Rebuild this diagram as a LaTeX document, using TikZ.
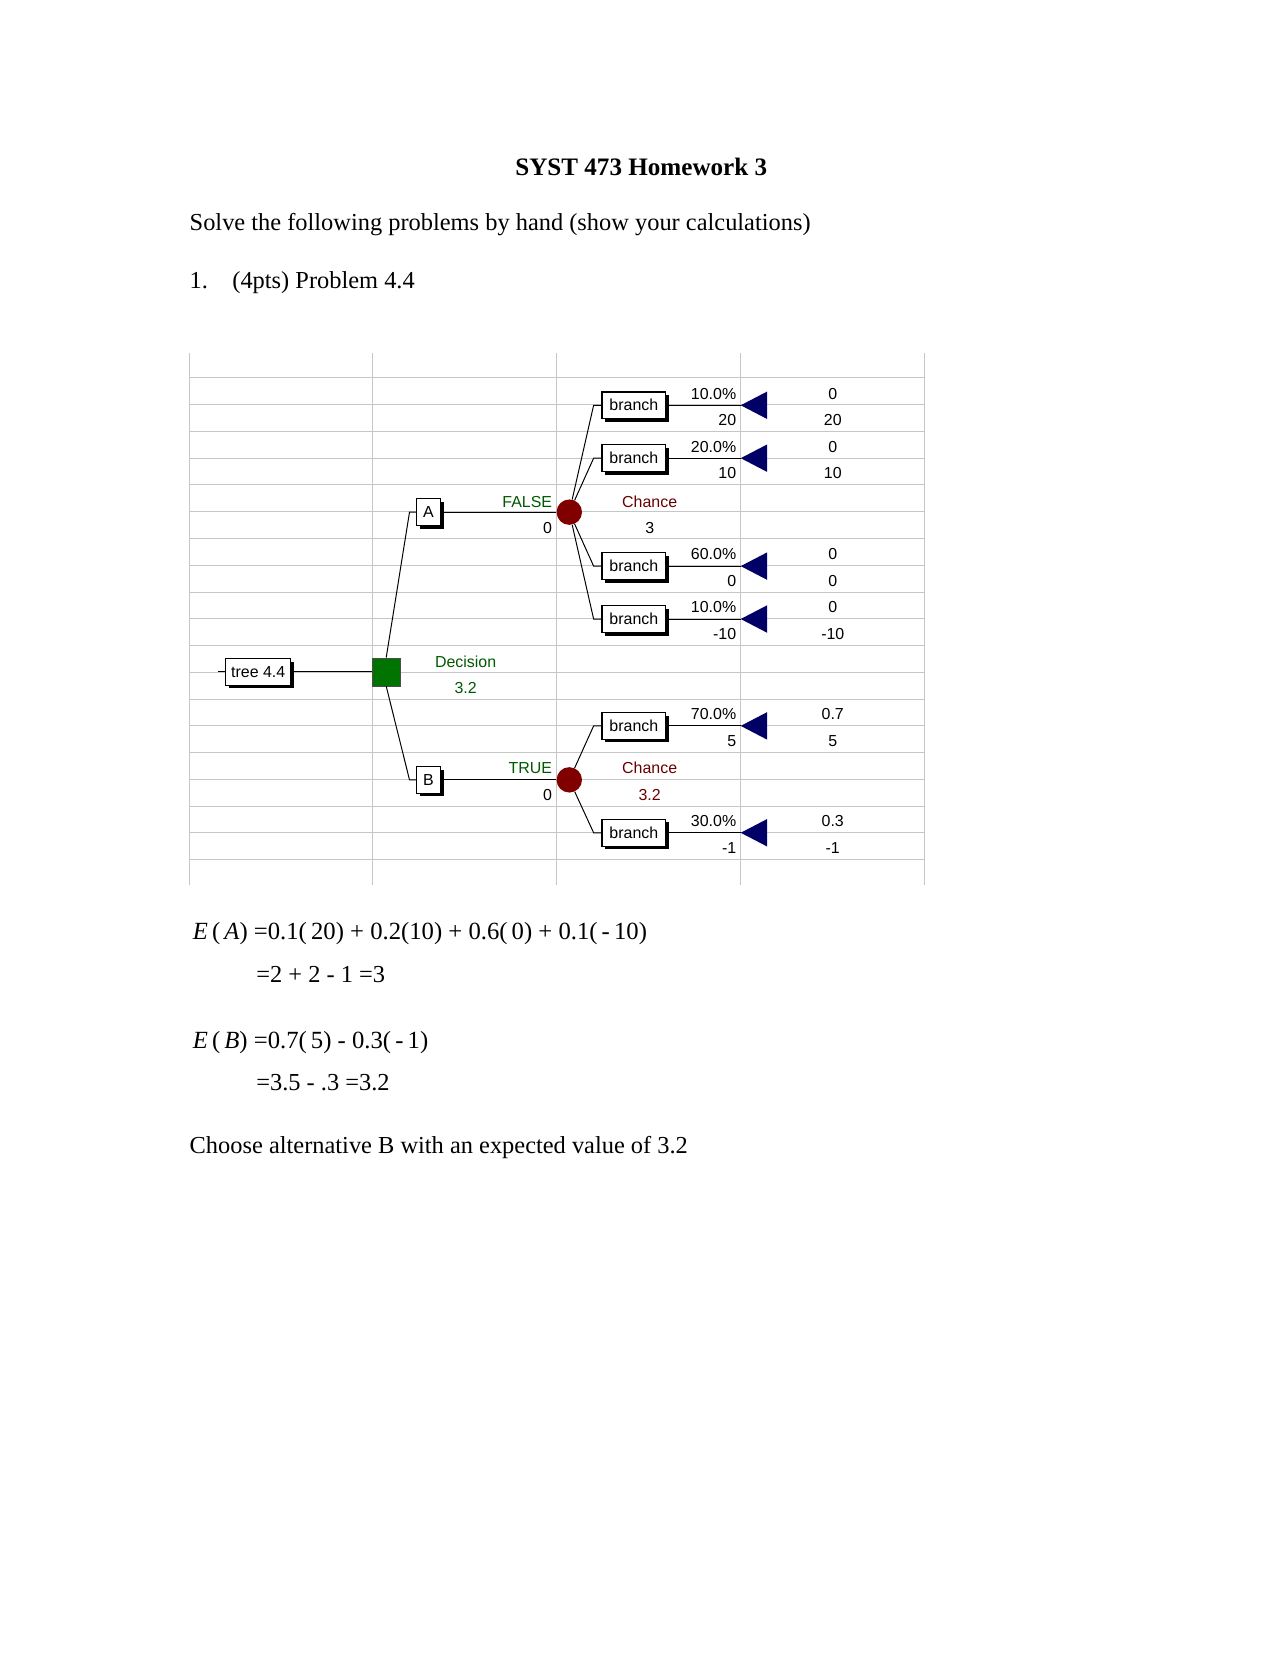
\documentclass[tikz,border=0pt]{standalone}
\usepackage{fontspec}
\setmainfont{Liberation Serif}
\newfontfamily\dsans{Liberation Sans}
\usetikzlibrary{shadows}
\begin{document}
\begin{tikzpicture}[x=0.75pt,y=-0.75pt,
  body/.style={font=\fontsize{17.3}{21}\selectfont, inner sep=0pt},
  dtxt/.style={font=\dsans\fontsize{11.3}{13}\selectfont, inner sep=0pt},
  sbox/.style={draw=black, fill=white, line width=0.9pt, minimum height=19pt, inner sep=2pt, font=\dsans\fontsize{11.3}{13}\selectfont,
    drop shadow={shadow xshift=2.2pt, shadow yshift=-2.2pt, fill=black, opacity=1}},
  link/.style={black, line width=0.7pt},
  grid/.style={gray!45, line width=0.6pt},
  tri/.style={fill=blue!40!black, draw=none}]
\useasboundingbox (0,0) rectangle (1210,1565);
% header text
\node[body, font=\bfseries\fontsize{17.8}{21}\selectfont] (title) at (606,158) {SYST 473 Homework 3};
\node[body, anchor=west] (solve) at (179,212) {Solve the following problems by hand (show your calculations)};
\node[body, anchor=west] (prob) at (179,267) {1.\hspace{1em}(4pts) Problem 4.4};
% grid
\foreach \k in {0,...,18} \draw[grid] (179,357+25.3*\k) -- (874,357+25.3*\k);
\foreach \x in {179,352,526,700,874} \draw[grid] (\x,334) -- (\x,836);
% root
\node[sbox, minimum width=46pt] (tree) at (244,635) {tree 4.4};
\coordinate (treein) at (206,635);
\draw[link] (treein) -- (tree.west);
\node[draw=black!70, fill=green!45!black, minimum size=20pt, inner sep=0pt] (dec) at (365,635) {};
\draw[link] (tree.east) -- (dec.west);
\node[dtxt, text=green!35!black] (declab) at (440,625) {Decision};
\node[dtxt, text=green!35!black] (decval) at (440,650) {3.2};
% A and B
\node[sbox, minimum width=17pt] (A) at (405,484) {A};
\node[sbox, minimum width=17pt] (B) at (405,737) {B};
\coordinate (ka) at (387,484);
\coordinate (kb) at (387,737);
\draw[link] (dec.north) -- (ka) -- (A.west);
\draw[link] (dec.south) -- (kb) -- (B.west);
\node[circle, fill=red!50!black, minimum size=18pt, inner sep=0pt] (ca) at (538,484) {};
\node[circle, fill=red!50!black, minimum size=18pt, inner sep=0pt] (cb) at (538,737) {};
\draw[link] (A.east) -- (ca.west);
\draw[link] (B.east) -- (cb.west);
\node[dtxt, anchor=east, text=green!35!black] (fl) at (522,474) {FALSE};
\node[dtxt, anchor=east] (fv) at (522,499) {0};
\node[dtxt, anchor=east, text=green!35!black] (tl) at (522,726) {TRUE};
\node[dtxt, anchor=east] (tv) at (522,751) {0};
\node[dtxt, text=red!40!black] (chA) at (614,474) {Chance};
\node[dtxt] (chAv) at (614,499) {3};
\node[dtxt, text=red!40!black] (chB) at (614,726) {Chance};
\node[dtxt, text=red!40!black] (chBv) at (614,751) {3.2};
% branches
\foreach \i/\c/\y/\p/\v/\a/\b in {1/ca/383/10.0\%/20/0/20, 2/ca/433/20.0\%/10/0/10, 3/ca/535/60.0\%/0/0/0, 4/ca/585/10.0\%/-10/0/-10, 5/cb/686/70.0\%/5/0.7/5, 6/cb/787/30.0\%/-1/0.3/-1}{
  \node[sbox, minimum width=45pt] (br\i) at (599,\y) {branch};
  \coordinate (k\i) at (561,\y);
  \draw[link] (\c) -- (k\i) -- (br\i.west);
  \coordinate (tip\i) at (700,\y);
  \draw[tri] (tip\i) -- ++(25,-13) -- ++(0,26) -- cycle;
  \draw[link] (br\i.east) -- (tip\i);
  \node[dtxt, anchor=east] (p\i) at (696,\y-11) {\p};
  \node[dtxt, anchor=east] (v\i) at (696,\y+14) {\v};
  \node[dtxt] (a\i) at (787,\y-11) {\a};
  \node[dtxt] (b\i) at (787,\y+14) {\b};
}
% equations
\node[body, anchor=west, font=\fontsize{17.5}{21}\selectfont] (ea) at (182,882) {\textit{E}\,(\,\textit{A}) =0.1(\,20) + 0.2(10) + 0.6(\,0) + 0.1(\,-\,10)};
\node[body, anchor=west] (ea2) at (242,921) {=2 + 2 - 1 =3};
\node[body, anchor=west, font=\fontsize{17.5}{21}\selectfont] (eb) at (182,985) {\textit{E}\,(\,\textit{B}) =0.7(\,5) - 0.3(\,-\,1)};
\node[body, anchor=west] (eb2) at (242,1023) {=3.5 - .3 =3.2};
\node[body, anchor=west] (choose) at (179,1084) {Choose alternative B with an expected value of 3.2};
\end{tikzpicture}
\end{document}
